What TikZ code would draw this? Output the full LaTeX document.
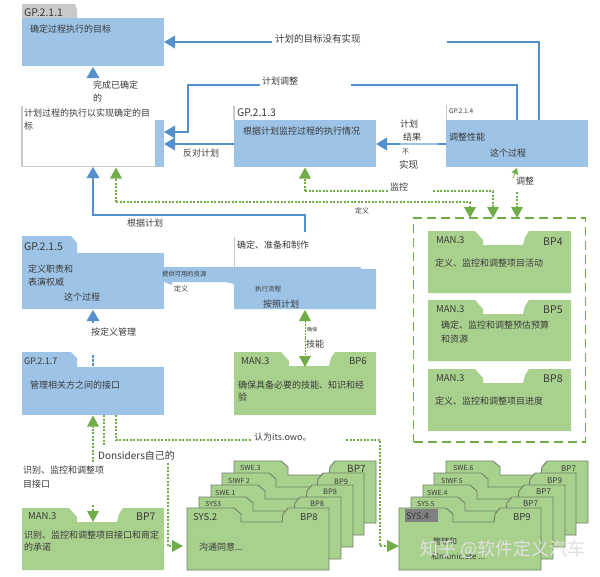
\documentclass[tikz,border=0pt]{standalone}
\usepackage{fontspec}
\setmainfont{Noto Sans CJK SC}
\usetikzlibrary{arrows.meta}
\definecolor{bluebox}{HTML}{9DC3E6}
\definecolor{blueline}{HTML}{5590CC}
\definecolor{greenbox}{HTML}{A9D18E}
\definecolor{greenline}{HTML}{70AD47}
\definecolor{greyedge}{HTML}{6F7F68}
\definecolor{greytab}{HTML}{C9C9C9}
\definecolor{ink}{HTML}{3A3A3A}
\tikzset{
  bx/.style={anchor=north west,inner sep=0pt,outer sep=0pt,draw=none},
  bluebody/.style={bx,fill=bluebox},
  txt/.style={anchor=west,inner sep=0pt,text=ink},
  arrowblue/.style={draw=blueline,line width=#1,-{Triangle[length=11pt,width=13pt,line width=0pt]}},
  plainblue/.style={draw=blueline,line width=#1},
  arrowgreen/.style={draw=greenline,line width=2pt,dash pattern=on 2pt off 1.5pt,-{Triangle[length=11pt,width=12pt,line width=0pt,fill=greenline]}},
  plaingreen/.style={draw=greenline,line width=2pt,dash pattern=on 2pt off 1.5pt},
}
% text label: name, x, y, size, text
\newcommand{\lbl}[5]{\node[txt,font=\fontsize{#4}{#4}\selectfont] (#1) at (#2,#3) {#5};}
% green notched folder: name,x,y,w,h
\newcommand{\gfolder}[5]{%
  \fill[greenbox] (#2,#3) -- (#2+47,#3) -- (#2+55,#3+9) -- (#2+55,#3+14) -- (#2+95,#3+14)
    -- (#2+97,#3+6) -- (#2+101,#3) -- (#2+#4,#3) -- (#2+#4,#3+#5) -- (#2,#3+#5) -- cycle;
  \node[bx,minimum width=#4pt,minimum height=#5pt] (#1) at (#2,#3) {};}
% outlined stack layer: name,x,y
\newcommand{\layer}[3]{%
  \draw[greyedge,fill=greenbox,line width=0.9pt] (#2,#3) -- (#2+47,#3) -- (#2+54,#3+6) -- (#2+54,#3+14) -- (#2+95,#3+14)
    -- (#2+96,#3+6) -- (#2+101,#3) -- (#2+142,#3) -- (#2+142,#3+62) -- (#2,#3+62) -- cycle;
  \node[bx,minimum width=142pt,minimum height=62pt] (#1) at (#2,#3) {};}
\begin{document}
\begin{tikzpicture}[x=1pt,y=-1pt]
\useasboundingbox (0,0) rectangle (600,576);
\fill[white] (0,0) rectangle (600,576);

% GP.2.1.1
\fill[greytab] (22,4) -- (75,4) -- (77,10) -- (77,18) -- (22,18) -- cycle;
\node[bluebody,minimum width=142pt,minimum height=48pt] (g211) at (22,18) {};
\lbl{t211}{24}{13}{10.5}{GP.2.1.1}
\lbl{t211b}{30}{29}{9}{确定过程执行的目标}

% plan execution box
\node[bx,minimum width=142pt,minimum height=61pt] (exec) at (22,106) {};
\draw[greytab,line width=1.2pt] (22,106) -- (22,166.5) -- (155,166.5);
\fill[bluebox] (155,120) rectangle (164,167);
\lbl{texec1}{24}{113}{9}{计划过程的执行以实现确定的目}
\lbl{texec2}{24}{126}{9}{标}

% GP.2.1.3
\node[bluebody,minimum width=142pt,minimum height=47pt] (g213) at (234,120) {};
\draw[greytab,line width=1.2pt] (234,106) -- (234,120);
\lbl{t213}{237}{113}{10.5}{GP.2.1.3}
\lbl{t213b}{243}{131}{9}{根据计划监控过程的执行情况}

% GP.2.1.4
\node[bluebody,minimum width=142pt,minimum height=47pt] (g214) at (446,120) {};
\draw[greytab,line width=1.2pt] (446.5,105) -- (446.5,120);
\lbl{t214}{449}{111}{6.5}{GP.2.1.4}
\lbl{t214b}{449}{137}{9}{调整性能}
\lbl{t214c}{490}{153}{9}{这个过程}

% GP.2.1.5
\fill[bluebox] (22,236) -- (71,236) -- (77,243) -- (77,253) -- (22,253) -- cycle;
\node[bluebody,minimum width=142pt,minimum height=56pt] (g215) at (22,253) {};
\lbl{t215}{24}{247}{10.5}{GP.2.1.5}
\lbl{t215b}{28}{269}{9}{定义职责和}
\lbl{t215c}{28}{282}{9}{表演权威}
\lbl{t215d}{64}{297}{9}{这个过程}

% follow-plan box with band
\fill[bluebox] (164,267) -- (360,267) -- (362,269) -- (376,269) -- (376,309) -- (234,309) -- (234,284) -- (225,282) -- (172,282) -- (172,285) -- (164,282) -- cycle;
\node[bx,minimum width=142pt,minimum height=40pt] (plan) at (234,269) {};
\draw[greytab,line width=1.2pt] (234.5,237) -- (234.5,267);
\lbl{tplan0}{237}{245}{9}{确定、准备和制作}
\lbl{tplan1}{162}{274}{6.3}{提供可用的资源}
\lbl{tplan2}{174}{289}{7}{定义}
\lbl{tplan3}{255}{289}{6.5}{执行流程}
\lbl{tplan4}{263}{304}{9}{按照计划}

% GP.2.1.7
\fill[bluebox] (22,352) -- (71,352) -- (77,358) -- (77,367) -- (22,367) -- cycle;
\node[bluebody,minimum width=142pt,minimum height=48pt] (g217) at (22,367) {};
\lbl{t217}{24}{361}{9}{GP.2.1.7}
\lbl{t217b}{30}{385}{9}{管理相关方之间的接口}

% BP6
\gfolder{bp6}{234}{352}{142}{63}
\lbl{tb6a}{241}{361}{9.5}{MAN.3}
\lbl{tb6b}{349}{361}{9.5}{BP6}
\lbl{tb6c}{238}{385}{9}{确保具备必要的技能、知识和经}
\lbl{tb6d}{238}{397}{9}{验}

% dashed container
\node[bx,minimum width=172pt,minimum height=224pt,draw=greenline,line width=1.1pt,dash pattern=on 9pt off 5pt] (frame) at (413.5,218) {};
\gfolder{bp4}{428}{231}{143}{62}
\gfolder{bp5}{428}{300}{143}{61}
\gfolder{bp8}{428}{369}{143}{62}
\lbl{tb4a}{436}{240}{9.5}{MAN.3}
\lbl{tb4b}{543}{242}{10.5}{BP4}
\lbl{tb4c}{435}{263}{9}{定义、监控和调整项目活动}
\lbl{tb5a}{436}{309}{9.5}{MAN.3}
\lbl{tb5b}{543}{310}{10.5}{BP5}
\lbl{tb5c}{441}{325}{9}{确定、监控和调整预估预算}
\lbl{tb5d}{441}{339}{9}{和资源}
\lbl{tb8a}{436}{378}{9.5}{MAN.3}
\lbl{tb8b}{543}{379}{10.5}{BP8}
\lbl{tb8c}{435}{401}{9}{定义、监控和调整项目进度}

% BP7 left
\gfolder{bp7}{22}{508}{142}{62}
\lbl{tb7a}{28}{516}{9.5}{MAN.3}
\lbl{tb7b}{136}{517}{10.5}{BP7}
\lbl{tb7c}{24}{535}{9}{识别、监控和调整项目接口和商定}
\lbl{tb7d}{24}{547}{9}{的承诺}
\lbl{tif1}{23}{470}{9}{识别、监控和调整项}
\lbl{tif2}{23}{484}{9}{目接口}

% left stack
\layer{la5}{234}{461}
\layer{la4}{222}{473}
\layer{la3}{211}{485}
\layer{la2}{199}{497}
\layer{la1}{187}{508}
\lbl{sa5}{240}{468}{7}{SWE.3}
\lbl{sa4}{228}{481}{7}{SIWF 2}
\lbl{sa3}{215}{493}{7}{SWE.1}
\lbl{sa2}{205}{504}{7}{SYS3}
\lbl{sa1}{193}{517}{9.5}{SYS.2}
\lbl{pa5}{347}{469}{10}{BP7}
\lbl{pa4}{334}{482}{7.5}{BP9}
\lbl{pa3}{323}{492}{7.5}{BP8}
\lbl{pa2}{310}{504}{7.5}{BP8}
\lbl{pa1}{300}{517}{9.5}{BP8}
\lbl{sa0}{199}{547}{9}{沟通同意...}

% right stack
\layer{lb5}{446}{461}
\layer{lb4}{434}{473}
\layer{lb3}{423}{485}
\layer{lb2}{411}{497}
\layer{lb1}{399}{508}
\fill[black!50] (405,509) rectangle (438,522);
\lbl{sb5}{453}{468}{7}{SWE.6}
\lbl{sb4}{441}{481}{7}{SIWF.5}
\lbl{sb3}{427}{493}{7}{SWE.4}
\lbl{sb2}{417}{504}{7}{SYS.5}
\lbl{sb1}{406}{516}{9}{SYS.4}
\lbl{pb5}{561}{469}{8}{BP7}
\lbl{pb4}{547}{481}{8}{BP9}
\lbl{pb3}{536}{492}{8}{BP7}
\lbl{pb2}{523}{504}{8}{BP7}
\lbl{pb1}{513}{517}{9.5}{BP9}
\lbl{sb0}{433}{541}{8}{管辖和}
\lbl{sb01}{431}{556}{8}{和munic.ate ...}

% connector labels
\lbl{c1}{275}{39}{9.5}{计划的目标没有实现}
\lbl{c2}{262}{81}{9}{计划调整}
\lbl{c3}{183}{153}{9}{反对计划}
\lbl{c4}{93}{85}{9}{完成已确定}
\lbl{c4b}{93}{98}{9}{的}
\lbl{c5}{400}{124}{9}{计划}
\lbl{c6}{403}{137}{9}{结果}
\lbl{c7}{402}{152}{7}{不}
\lbl{c8}{399}{165}{9.5}{实现}
\lbl{c9}{390}{187}{9}{监控}
\lbl{c10}{355}{211}{7}{定义}
\lbl{c11}{516}{181}{9}{调整}
\lbl{c12}{127}{223}{9}{根据计划}
\lbl{c13}{91}{332}{9}{按定义管理}
\lbl{c14}{307}{330}{5}{确保}
\lbl{c15}{306}{344}{9}{技能}
\lbl{c16}{98}{456}{10}{Donsiders自己的}
\lbl{c17}{254}{437}{9}{认为its.owo。}

% anchors for connector ends
\coordinate (a1) at (539,120); \coordinate (a2) at (539,42); \coordinate (a3) at (447,42);
\coordinate (a4) at (272,42); \coordinate (a5) at (164,42);
\draw[plainblue=2.5pt] (a1) -- (a2) -- (a3);
\draw[arrowblue=2.5pt] (a4) -- (a5);

\coordinate (b1) at (517,120); \coordinate (b2) at (517,84.5); \coordinate (b3) at (351,84.5);
\coordinate (b4) at (260,84.5); \coordinate (b5) at (188,84.5); \coordinate (b6) at (188,132); \coordinate (b7) at (164,132);
\draw[plainblue=2pt] (b1) -- (b2) -- (b3);
\draw[arrowblue=2pt] (b4) -- (b5) -- (b6) -- (b7);

\coordinate (d1) at (234,144); \coordinate (d2) at (164,144);
\draw[arrowblue=2pt] (d1) -- (d2);

\coordinate (e1) at (446,144); \coordinate (e2) at (438,144); \coordinate (e3) at (400,144); \coordinate (e4) at (376,144);
\draw[draw=bluebox,line width=2pt] (e2) -- (e3);
\draw[plainblue=2pt] (e1) -- (e2);
\draw[arrowblue=2pt] (e3) -- (e4);

\coordinate (f1) at (93,78); \coordinate (f2) at (93,67);
\draw[arrowblue=0.1pt] (f1) -- (f2);

\coordinate (h1) at (305,232); \coordinate (h2) at (305,215); \coordinate (h3) at (93,215); \coordinate (h4) at (93,167);
\draw[arrowblue=2.5pt] (h1) -- (h2) -- (h3) -- (h4);

\coordinate (i1) at (93,323); \coordinate (i2) at (93,310);
\draw[arrowblue=1.5pt] (i1) -- (i2);
\coordinate (i3) at (93,355); \coordinate (i4) at (93,367);
\draw[draw=blueline,line width=1.3pt,dash pattern=on 2.5pt off 1.5pt] (i3) -- (i4);

% green dotted connectors
\coordinate (j1) at (116,202); \coordinate (j2) at (470,202); \coordinate (j3) at (470,218); \coordinate (j4) at (116,167.5);
\draw[plaingreen] (j1) -- (j2);
\draw[arrowgreen] (j2) -- (j3);
\draw[arrowgreen] (j1) -- (j4);

\coordinate (k1) at (305,191); \coordinate (k2) at (305,167.5); \coordinate (k3) at (388,191);
\coordinate (k4) at (433,191); \coordinate (k5) at (493,191); \coordinate (k6) at (493,218);
\draw[arrowgreen] (k1) -- (k2);
\draw[plaingreen] (k1) -- (k3);
\draw[plaingreen] (k4) -- (k5);
\draw[arrowgreen] (k5) -- (k6);

\coordinate (l1) at (517,192); \coordinate (l2) at (517,218); \coordinate (l3) at (513,178); \coordinate (l4) at (517,168);
\draw[arrowgreen] (l1) -- (l2);
\draw[draw=greenline,line width=0.8pt,-{Triangle[length=6pt,width=7pt,line width=0pt]}] (l3) -- (l4);

\coordinate (m1) at (305,338); \coordinate (m2) at (305,310); \coordinate (m3) at (305,367);
\draw[draw=greenline,line width=1pt,dash pattern=on 2pt off 1pt,-{Triangle[length=11pt,width=12pt,line width=0pt]}] (m1) -- (m2);
\draw[draw=greenline,line width=1pt,dash pattern=on 2pt off 1pt,-{Triangle[length=11pt,width=12pt,line width=0pt]}] (m1) -- (m3);

\coordinate (n1) at (93,462); \coordinate (n2) at (93,415.5);
\draw[arrowgreen] (n1) -- (n2);
\coordinate (n3) at (93,505); \coordinate (n4) at (93,522);
\draw[arrowgreen] (n3) -- (n4);
\coordinate (o1) at (104,415); \coordinate (o2) at (104,446);
\draw[plaingreen] (o1) -- (o2);

\coordinate (q1) at (116,415); \coordinate (q2) at (116,440); \coordinate (q3) at (252,440);
\coordinate (q4) at (346,440); \coordinate (q5) at (380,440); \coordinate (q6) at (380,546); \coordinate (q7) at (399,546);
\draw[plaingreen] (q1) -- (q2) -- (q3);
\draw[plaingreen] (q4) -- (q5) -- (q6) -- (386,546);
\fill[greenline] (387,540) -- (q7) -- (387,552) -- cycle;

\coordinate (r1) at (168,463); \coordinate (r2) at (168,546); \coordinate (r3) at (183,546);
\draw[plaingreen] (r1) -- (r2) -- (171,546);
\fill[greenline] (172,540) -- (r3) -- (172,552) -- cycle;

% watermark
\node[txt,text=black!12,font=\fontsize{18}{18}\selectfont] (wm) at (420,549) {知乎 @软件定义汽车};
\end{tikzpicture}
\end{document}
